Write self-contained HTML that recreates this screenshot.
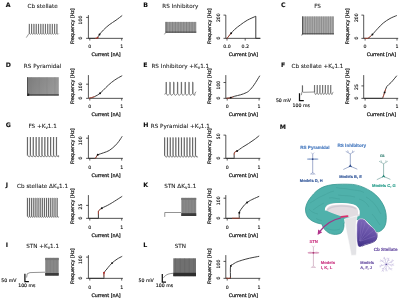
<!DOCTYPE html>
<html><head><meta charset="utf-8"><style>
html,body{margin:0;padding:0;background:#fff;}
svg{display:block;}
text{font-family:'DejaVu Sans', 'Liberation Sans', sans-serif;text-rendering:geometricPrecision;}
</style></head><body>
<svg width="400" height="299" viewBox="0 0 400 299">
<defs><filter id="soft" x="0" y="0" width="1" height="1"><feGaussianBlur stdDeviation="0.3"/></filter></defs>
<g filter="url(#soft)">
<rect width="400" height="299" fill="#fff"/>
<text x="5.80" y="7.20" font-size="6.2" text-anchor="start" font-weight="bold" fill="#111" stroke="#111" stroke-width="0.1">A</text>
<text x="42.60" y="7.75" font-size="5.65" text-anchor="middle" font-weight="normal" fill="#1a1a1a" stroke="#1a1a1a" stroke-width="0.08">Cb stellate</text>
<text x="143.20" y="7.20" font-size="6.2" text-anchor="start" font-weight="bold" fill="#111" stroke="#111" stroke-width="0.1">B</text>
<text x="180.30" y="7.75" font-size="5.65" text-anchor="middle" font-weight="normal" fill="#1a1a1a" stroke="#1a1a1a" stroke-width="0.08">RS Inhibitory</text>
<text x="281.10" y="7.20" font-size="6.2" text-anchor="start" font-weight="bold" fill="#111" stroke="#111" stroke-width="0.1">C</text>
<text x="317.50" y="7.75" font-size="5.65" text-anchor="middle" font-weight="normal" fill="#1a1a1a" stroke="#1a1a1a" stroke-width="0.08">FS</text>
<text x="5.80" y="67.20" font-size="6.2" text-anchor="start" font-weight="bold" fill="#111" stroke="#111" stroke-width="0.1">D</text>
<text x="42.60" y="67.75" font-size="5.65" text-anchor="middle" font-weight="normal" fill="#1a1a1a" stroke="#1a1a1a" stroke-width="0.08">RS Pyramidal</text>
<text x="143.20" y="67.20" font-size="6.2" text-anchor="start" font-weight="bold" fill="#111" stroke="#111" stroke-width="0.1">E</text>
<text x="180.30" y="67.75" font-size="5.65" text-anchor="middle" font-weight="normal" fill="#1a1a1a" stroke="#1a1a1a" stroke-width="0.08">RS Inhibitory +K<tspan font-size="0.62em" dy="1.0">V</tspan><tspan dy="-1.0">1.1</tspan></text>
<text x="281.10" y="67.20" font-size="6.2" text-anchor="start" font-weight="bold" fill="#111" stroke="#111" stroke-width="0.1">F</text>
<text x="317.50" y="67.75" font-size="5.65" text-anchor="middle" font-weight="normal" fill="#1a1a1a" stroke="#1a1a1a" stroke-width="0.08">Cb stellate +K<tspan font-size="0.62em" dy="1.0">V</tspan><tspan dy="-1.0">1.1</tspan></text>
<text x="5.80" y="127.20" font-size="6.2" text-anchor="start" font-weight="bold" fill="#111" stroke="#111" stroke-width="0.1">G</text>
<text x="42.60" y="127.75" font-size="5.65" text-anchor="middle" font-weight="normal" fill="#1a1a1a" stroke="#1a1a1a" stroke-width="0.08">FS +K<tspan font-size="0.62em" dy="1.0">V</tspan><tspan dy="-1.0">1.1</tspan></text>
<text x="143.20" y="127.20" font-size="6.2" text-anchor="start" font-weight="bold" fill="#111" stroke="#111" stroke-width="0.1">H</text>
<text x="180.30" y="127.75" font-size="5.65" text-anchor="middle" font-weight="normal" fill="#1a1a1a" stroke="#1a1a1a" stroke-width="0.08">RS Pyramidal +K<tspan font-size="0.62em" dy="1.0">V</tspan><tspan dy="-1.0">1.1</tspan></text>
<text x="5.80" y="187.20" font-size="6.2" text-anchor="start" font-weight="bold" fill="#111" stroke="#111" stroke-width="0.1">J</text>
<text x="42.60" y="187.75" font-size="5.65" text-anchor="middle" font-weight="normal" fill="#1a1a1a" stroke="#1a1a1a" stroke-width="0.08">Cb stellate ΔK<tspan font-size="0.62em" dy="1.0">V</tspan><tspan dy="-1.0">1.1</tspan></text>
<text x="143.20" y="187.20" font-size="6.2" text-anchor="start" font-weight="bold" fill="#111" stroke="#111" stroke-width="0.1">K</text>
<text x="180.30" y="187.75" font-size="5.65" text-anchor="middle" font-weight="normal" fill="#1a1a1a" stroke="#1a1a1a" stroke-width="0.08">STN ΔK<tspan font-size="0.62em" dy="1.0">V</tspan><tspan dy="-1.0">1.1</tspan></text>
<text x="5.80" y="247.20" font-size="6.2" text-anchor="start" font-weight="bold" fill="#111" stroke="#111" stroke-width="0.1">I</text>
<text x="42.60" y="247.75" font-size="5.65" text-anchor="middle" font-weight="normal" fill="#1a1a1a" stroke="#1a1a1a" stroke-width="0.08">STN +K<tspan font-size="0.62em" dy="1.0">V</tspan><tspan dy="-1.0">1.1</tspan></text>
<text x="143.20" y="247.20" font-size="6.2" text-anchor="start" font-weight="bold" fill="#111" stroke="#111" stroke-width="0.1">L</text>
<text x="180.30" y="247.75" font-size="5.65" text-anchor="middle" font-weight="normal" fill="#1a1a1a" stroke="#1a1a1a" stroke-width="0.08">STN</text>
<path d="M26.30 37.60L28.80 33.80L29.20 33.40L29.20 33.40L29.25 23.90L29.42 24.20L29.42 33.00Q29.52 34.30 30.46 34.30L31.50 33.40L31.55 23.90L31.72 24.20L31.72 33.00Q31.82 34.30 32.76 34.30L33.80 33.40L33.85 23.90L34.02 24.20L34.02 33.00Q34.12 34.30 35.06 34.30L36.10 33.40L36.15 23.90L36.32 24.20L36.32 33.00Q36.42 34.30 37.36 34.30L38.40 33.40L38.45 23.90L38.62 24.20L38.62 33.00Q38.72 34.30 39.66 34.30L40.70 33.40L40.75 23.90L40.92 24.20L40.92 33.00Q41.02 34.30 41.96 34.30L43.00 33.40L43.05 23.90L43.22 24.20L43.22 33.00Q43.32 34.30 44.26 34.30L45.30 33.40L45.35 23.90L45.52 24.20L45.52 33.00Q45.62 34.30 46.56 34.30L47.60 33.40L47.65 23.90L47.82 24.20L47.82 33.00Q47.92 34.30 48.86 34.30L49.90 33.40L49.95 23.90L50.12 24.20L50.12 33.00Q50.22 34.30 51.16 34.30L52.20 33.40L52.25 23.90L52.42 24.20L52.42 33.00Q52.52 34.30 53.46 34.30L54.50 33.40L54.55 23.90L54.72 24.20L54.72 33.00Q54.82 34.30 55.76 34.30L56.80 33.40L56.85 23.90L57.02 24.20L57.02 33.00Q57.12 34.30 58.06 34.30L58.70 33.60" stroke="#222" stroke-width="0.45" fill="none" stroke-linejoin="round"/>
<rect x="165.60" y="21.90" width="30.70" height="10.70" fill="#999"/>
<path d="M167.00 21.90V32.60M169.79 21.90V32.60M172.58 21.90V32.60M175.37 21.90V32.60M178.16 21.90V32.60M180.95 21.90V32.60M183.74 21.90V32.60M186.53 21.90V32.60M189.32 21.90V32.60M192.11 21.90V32.60M194.90 21.90V32.60" stroke="#666" stroke-width="0.45" fill="none"/>
<rect x="165.60" y="31.70" width="30.70" height="0.90" fill="#333"/>
<rect x="165.5" y="21.9" width="0.8" height="10.7" fill="#555"/>
<polyline points="164.40,34.40 165.60,32.60" fill="none" stroke="#3a3a3a" stroke-width="0.55"/>
<rect x="302.00" y="16.40" width="32.00" height="17.90" fill="#ababab"/>
<path d="M303.14 16.40V34.30M305.43 16.40V34.30M307.71 16.40V34.30M310.00 16.40V34.30M312.29 16.40V34.30M314.57 16.40V34.30M316.86 16.40V34.30M319.14 16.40V34.30M321.43 16.40V34.30M323.71 16.40V34.30M326.00 16.40V34.30M328.29 16.40V34.30M330.57 16.40V34.30M332.86 16.40V34.30" stroke="#686868" stroke-width="0.45" fill="none"/>
<rect x="302.00" y="33.40" width="32.00" height="0.90" fill="#3a3a3a"/>
<rect x="302.0" y="16.4" width="0.8" height="17.9" fill="#444"/>
<polyline points="301.70,35.60 302.30,33.80" fill="none" stroke="#3a3a3a" stroke-width="0.55"/>
<defs><linearGradient id="dg" x1="0" y1="0" x2="1" y2="0.3"><stop offset="0" stop-color="#7c7c7c"/><stop offset="1" stop-color="#989898"/></linearGradient></defs>
<rect x="27.30" y="77.20" width="31.50" height="18.40" fill="url(#dg)"/>
<path d="M31.24 77.20V95.60M39.11 77.20V95.60M46.99 77.20V95.60M54.86 77.20V95.60" stroke="#808080" stroke-width="0.35" fill="none"/>
<rect x="27.30" y="94.20" width="31.50" height="1.40" fill="#4a4a4a"/>
<rect x="27.0" y="93.6" width="2.2" height="2.2" fill="#222"/>
<rect x="27.1" y="77.2" width="0.8" height="18.4" fill="#3a3a3a"/>
<path d="M164.40 94.30L166.00 93.40L166.00 93.40L166.05 82.00L166.40 82.30L166.40 93.10Q166.50 95.30 168.16 95.30L169.80 93.40L169.85 82.00L170.20 82.30L170.20 93.10Q170.30 95.30 171.96 95.30L173.60 93.40L173.65 82.00L174.00 82.30L174.00 93.10Q174.10 95.30 175.76 95.30L177.40 93.40L177.45 82.00L177.80 82.30L177.80 93.10Q177.90 95.30 179.56 95.30L181.20 93.40L181.25 82.00L181.60 82.30L181.60 93.10Q181.70 95.30 183.36 95.30L185.00 93.40L185.05 82.00L185.40 82.30L185.40 93.10Q185.50 95.30 187.16 95.30L188.80 93.40L188.85 82.00L189.20 82.30L189.20 93.10Q189.30 95.30 190.96 95.30L192.60 93.40L192.65 82.00L193.00 82.30L193.00 93.10Q193.10 95.30 194.76 95.30L195.00 92.80L196.20 91.80" stroke="#222" stroke-width="0.5" fill="none" stroke-linejoin="round"/>
<path d="M301.30 95.20L301.90 92.20L302.30 92.00L302.30 92.00L302.35 85.40L302.58 85.70L302.58 91.30Q302.68 92.30 303.38 92.30L314.30 92.00" stroke="#222" stroke-width="0.5" fill="none" stroke-linejoin="round"/>
<path d="M314.40 92.20L314.40 92.20L314.45 85.00L314.65 85.30L314.65 92.90Q314.75 94.50 315.93 94.50L317.10 92.20L317.15 85.00L317.35 85.30L317.35 92.90Q317.45 94.50 318.63 94.50L319.80 92.20L319.85 85.00L320.05 85.30L320.05 92.90Q320.15 94.50 321.33 94.50L322.50 92.20L322.55 85.00L322.75 85.30L322.75 92.90Q322.85 94.50 324.03 94.50L325.20 92.20L325.25 85.00L325.45 85.30L325.45 92.90Q325.55 94.50 326.73 94.50L327.90 92.20L327.95 85.00L328.15 85.30L328.15 92.90Q328.25 94.50 329.43 94.50L330.60 92.20L330.65 85.00L330.85 85.30L330.85 92.90Q330.95 94.50 332.13 94.50L332.60 92.60L333.40 92.30" stroke="#222" stroke-width="0.45" fill="none" stroke-linejoin="round"/>
<path d="M299.50 93.20V100.70H303.80" fill="none" stroke="#111" stroke-width="1.25"/>
<text x="275.90" y="101.90" font-size="4.65" text-anchor="start" font-weight="normal" fill="#1a1a1a" stroke="#1a1a1a" stroke-width="0.15">50 mV</text>
<text x="292.60" y="106.90" font-size="4.65" text-anchor="start" font-weight="normal" fill="#1a1a1a" stroke="#1a1a1a" stroke-width="0.15">100 ms</text>
<path d="M27.30 155.60L27.30 155.60L27.35 137.00L27.58 137.30L27.58 154.30Q27.68 156.90 29.66 156.90L30.20 155.60L30.25 137.00L30.48 137.30L30.48 154.30Q30.58 156.90 32.56 156.90L33.10 155.60L33.15 137.00L33.38 137.30L33.38 154.30Q33.48 156.90 35.46 156.90L36.00 155.60L36.05 137.00L36.28 137.30L36.28 154.30Q36.38 156.90 38.36 156.90L38.90 155.60L38.95 137.00L39.18 137.30L39.18 154.30Q39.28 156.90 41.26 156.90L41.80 155.60L41.85 137.00L42.08 137.30L42.08 154.30Q42.18 156.90 44.16 156.90L44.70 155.60L44.75 137.00L44.98 137.30L44.98 154.30Q45.08 156.90 47.06 156.90L47.60 155.60L47.65 137.00L47.88 137.30L47.88 154.30Q47.98 156.90 49.96 156.90L50.50 155.60L50.55 137.00L50.78 137.30L50.78 154.30Q50.88 156.90 52.86 156.90L53.40 155.60L53.45 137.00L53.68 137.30L53.68 154.30Q53.78 156.90 55.76 156.90L56.30 155.60L56.35 137.00L56.58 137.30L56.58 154.30Q56.68 156.90 58.66 156.90L58.60 155.20" stroke="#222" stroke-width="0.5" fill="none" stroke-linejoin="round"/>
<path d="M164.50 155.80L164.50 155.80L164.55 137.40L164.78 137.70L164.78 154.80Q164.88 157.20 166.70 157.20L167.30 155.80L167.35 137.40L167.58 137.70L167.58 154.80Q167.68 157.20 169.50 157.20L170.10 155.80L170.15 137.40L170.38 137.70L170.38 154.80Q170.48 157.20 172.30 157.20L172.90 155.80L172.95 137.40L173.18 137.70L173.18 154.80Q173.28 157.20 175.10 157.20L175.70 155.80L175.75 137.40L175.98 137.70L175.98 154.80Q176.08 157.20 177.90 157.20L178.50 155.80L178.55 137.40L178.78 137.70L178.78 154.80Q178.88 157.20 180.70 157.20L181.30 155.80L181.35 137.40L181.58 137.70L181.58 154.80Q181.68 157.20 183.50 157.20L184.10 155.80L184.15 137.40L184.38 137.70L184.38 154.80Q184.48 157.20 186.30 157.20L186.90 155.80L186.95 137.40L187.18 137.70L187.18 154.80Q187.28 157.20 189.10 157.20L189.70 155.80L189.75 137.40L189.98 137.70L189.98 154.80Q190.08 157.20 191.90 157.20L192.50 155.80L192.55 137.40L192.78 137.70L192.78 154.80Q192.88 157.20 194.70 157.20L195.30 155.80L195.35 137.40L195.58 137.70L195.58 154.80Q195.68 157.20 197.50 157.20L196.60 156.00" stroke="#222" stroke-width="0.5" fill="none" stroke-linejoin="round"/>
<path d="M27.30 216.40L27.30 216.40L27.35 197.90L27.58 198.20L27.58 216.00Q27.68 217.40 28.70 217.40L29.42 216.40L29.47 197.90L29.70 198.20L29.70 216.00Q29.80 217.40 30.82 217.40L31.54 216.40L31.59 197.90L31.82 198.20L31.82 216.00Q31.92 217.40 32.94 217.40L33.66 216.40L33.71 197.90L33.94 198.20L33.94 216.00Q34.04 217.40 35.06 217.40L35.78 216.40L35.83 197.90L36.06 198.20L36.06 216.00Q36.16 217.40 37.18 217.40L37.90 216.40L37.95 197.90L38.18 198.20L38.18 216.00Q38.28 217.40 39.30 217.40L40.02 216.40L40.07 197.90L40.30 198.20L40.30 216.00Q40.40 217.40 41.42 217.40L42.14 216.40L42.19 197.90L42.42 198.20L42.42 216.00Q42.52 217.40 43.54 217.40L44.26 216.40L44.31 197.90L44.54 198.20L44.54 216.00Q44.64 217.40 45.66 217.40L46.38 216.40L46.43 197.90L46.66 198.20L46.66 216.00Q46.76 217.40 47.78 217.40L48.50 216.40L48.55 197.90L48.78 198.20L48.78 216.00Q48.88 217.40 49.90 217.40L50.62 216.40L50.67 197.90L50.90 198.20L50.90 216.00Q51.00 217.40 52.02 217.40L52.74 216.40L52.79 197.90L53.02 198.20L53.02 216.00Q53.12 217.40 54.14 217.40L54.86 216.40L54.91 197.90L55.14 198.20L55.14 216.00Q55.24 217.40 56.26 217.40L56.98 216.40L57.03 197.90L57.26 198.20L57.26 216.00Q57.36 217.40 58.38 217.40L58.60 216.60" stroke="#222" stroke-width="0.5" fill="none" stroke-linejoin="round"/>
<polyline points="164.75,216.90 164.75,212.50 181.20,212.50" fill="none" stroke="#3a3a3a" stroke-width="0.55"/>
<rect x="181.30" y="197.90" width="14.90" height="18.10" fill="#888"/>
<path d="M182.79 197.90V216.00M185.77 197.90V216.00M188.75 197.90V216.00M191.73 197.90V216.00M194.71 197.90V216.00" stroke="#747474" stroke-width="0.35" fill="none"/>
<rect x="181.30" y="213.20" width="14.90" height="2.80" fill="#3a3a3a"/>
<rect x="181.3" y="197.9" width="14.9" height="2.0" fill="#777"/>
<polyline points="26.60,277.50 27.20,273.80 30.00,272.60 45.00,272.20" fill="none" stroke="#3a3a3a" stroke-width="0.55"/>
<rect x="45.20" y="257.90" width="13.50" height="17.70" fill="#888"/>
<path d="M46.89 257.90V275.60M50.26 257.90V275.60M53.64 257.90V275.60M57.01 257.90V275.60" stroke="#747474" stroke-width="0.35" fill="none"/>
<rect x="45.20" y="273.00" width="13.50" height="2.60" fill="#3a3a3a"/>
<rect x="45.2" y="257.9" width="13.5" height="2.2" fill="#777"/>
<path d="M24.90 273.80V281.70H28.90" fill="none" stroke="#111" stroke-width="1.25"/>
<text x="1.30" y="282.20" font-size="4.65" text-anchor="start" font-weight="normal" fill="#1a1a1a" stroke="#1a1a1a" stroke-width="0.15">50 mV</text>
<text x="18.20" y="287.30" font-size="4.65" text-anchor="start" font-weight="normal" fill="#1a1a1a" stroke="#1a1a1a" stroke-width="0.15">100 ms</text>
<path d="M163.5 277.8 C 166 274, 170 273.5, 173.3 273.3" stroke="#3a3a3a" stroke-width="0.55" fill="none"/>
<rect x="173.30" y="258.30" width="22.70" height="17.90" fill="#707070"/>
<path d="M175.57 258.30V276.20M180.11 258.30V276.20M184.65 258.30V276.20M189.19 258.30V276.20M193.73 258.30V276.20" stroke="#5a5a5a" stroke-width="0.35" fill="none"/>
<rect x="173.30" y="272.80" width="22.70" height="3.40" fill="#2e2e2e"/>
<path d="M162.30 274.00V282.00H166.00" fill="none" stroke="#111" stroke-width="1.25"/>
<text x="138.50" y="282.30" font-size="4.65" text-anchor="start" font-weight="normal" fill="#1a1a1a" stroke="#1a1a1a" stroke-width="0.15">50 mV</text>
<text x="155.80" y="286.90" font-size="4.65" text-anchor="start" font-weight="normal" fill="#1a1a1a" stroke="#1a1a1a" stroke-width="0.15">100 ms</text>
<path d="M88.40 15.10 V38.35 H122.90" fill="none" stroke="#2a2a2a" stroke-width="0.8"/>
<line x1="86.10" y1="38.35" x2="88.40" y2="38.35" stroke="#2a2a2a" stroke-width="0.8"/>
<line x1="86.10" y1="17.40" x2="88.40" y2="17.40" stroke="#2a2a2a" stroke-width="0.8"/>
<line x1="89.80" y1="38.35" x2="89.80" y2="40.55" stroke="#2a2a2a" stroke-width="0.75"/>
<line x1="121.70" y1="38.35" x2="121.70" y2="40.55" stroke="#2a2a2a" stroke-width="0.75"/>
<text x="82.30" y="36.55" font-size="4.6" text-anchor="end" font-weight="normal" fill="#1a1a1a" stroke="#1a1a1a" stroke-width="0.15" transform="rotate(-90 82.30 36.55)">0</text>
<text x="82.30" y="15.60" font-size="4.6" text-anchor="end" font-weight="normal" fill="#1a1a1a" stroke="#1a1a1a" stroke-width="0.15" transform="rotate(-90 82.30 15.60)">100</text>
<text x="89.80" y="48.25" font-size="4.7" text-anchor="middle" font-weight="normal" fill="#1a1a1a" stroke="#1a1a1a" stroke-width="0.12">0</text>
<text x="121.70" y="48.25" font-size="4.7" text-anchor="middle" font-weight="normal" fill="#1a1a1a" stroke="#1a1a1a" stroke-width="0.12">1</text>
<text x="106.05" y="56.10" font-size="4.75" text-anchor="middle" font-weight="normal" fill="#1a1a1a" stroke="#1a1a1a" stroke-width="0.26">Current [nA]</text>
<text x="74.00" y="26.20" font-size="4.75" text-anchor="middle" font-weight="normal" fill="#1a1a1a" stroke="#1a1a1a" stroke-width="0.26" transform="rotate(-90 74.00 26.20)">Frequency [Hz]</text>
<path d="M88.40 38.35L97.20 38.35C97.40 37.99 98.02 36.84 98.40 36.20C98.78 35.56 98.65 35.55 99.50 34.50C100.35 33.45 101.88 31.52 103.50 29.90C105.12 28.28 107.12 26.42 109.20 24.80C111.28 23.18 113.83 21.75 116.00 20.20C118.17 18.65 121.17 16.28 122.20 15.50" fill="none" stroke="#333" stroke-width="0.95" stroke-linejoin="round"/>
<polyline points="95.50,38.30 97.40,38.00" fill="none" stroke="#d8442c" stroke-width="1.0" stroke-opacity="0.6" stroke-linecap="round"/>
<circle cx="97.60" cy="37.60" r="0.95" fill="#a0302a"/>
<circle cx="99.50" cy="34.50" r="0.95" fill="#111"/>
<path d="M225.80 15.10 V38.35 H260.30" fill="none" stroke="#2a2a2a" stroke-width="0.8"/>
<line x1="223.50" y1="38.35" x2="225.80" y2="38.35" stroke="#2a2a2a" stroke-width="0.8"/>
<line x1="223.50" y1="15.10" x2="225.80" y2="15.10" stroke="#2a2a2a" stroke-width="0.8"/>
<line x1="227.00" y1="38.35" x2="227.00" y2="40.55" stroke="#2a2a2a" stroke-width="0.75"/>
<line x1="245.20" y1="38.35" x2="245.20" y2="40.55" stroke="#2a2a2a" stroke-width="0.75"/>
<text x="219.70" y="36.55" font-size="4.6" text-anchor="end" font-weight="normal" fill="#1a1a1a" stroke="#1a1a1a" stroke-width="0.15" transform="rotate(-90 219.70 36.55)">0</text>
<text x="219.70" y="13.30" font-size="4.6" text-anchor="end" font-weight="normal" fill="#1a1a1a" stroke="#1a1a1a" stroke-width="0.15" transform="rotate(-90 219.70 13.30)">200</text>
<text x="227.00" y="48.25" font-size="4.7" text-anchor="middle" font-weight="normal" fill="#1a1a1a" stroke="#1a1a1a" stroke-width="0.12">0.0</text>
<text x="245.20" y="48.25" font-size="4.7" text-anchor="middle" font-weight="normal" fill="#1a1a1a" stroke="#1a1a1a" stroke-width="0.12">0.2</text>
<text x="243.45" y="56.10" font-size="4.75" text-anchor="middle" font-weight="normal" fill="#1a1a1a" stroke="#1a1a1a" stroke-width="0.26">Current [nA]</text>
<text x="211.40" y="26.20" font-size="4.75" text-anchor="middle" font-weight="normal" fill="#1a1a1a" stroke="#1a1a1a" stroke-width="0.26" transform="rotate(-90 211.40 26.20)">Frequency [Hz]</text>
<path d="M225.80 38.35L227.00 38.35C227.32 37.96 228.22 36.84 228.90 36.00C229.58 35.16 230.12 34.42 231.10 33.30C232.08 32.18 233.23 30.72 234.80 29.30C236.37 27.88 238.42 26.32 240.50 24.80C242.58 23.28 244.75 21.62 247.30 20.20C249.85 18.77 254.38 16.91 255.80 16.25L255.80 38.35L260.30 38.35" fill="none" stroke="#333" stroke-width="0.95" stroke-linejoin="round"/>
<polyline points="227.00,38.30 228.90,36.00 231.10,33.30" fill="none" stroke="#d8442c" stroke-width="1.0" stroke-opacity="0.6" stroke-linecap="round"/>
<circle cx="231.10" cy="33.30" r="0.95" fill="#111"/>
<path d="M363.70 15.10 V38.35 H398.20" fill="none" stroke="#2a2a2a" stroke-width="0.8"/>
<line x1="361.40" y1="38.35" x2="363.70" y2="38.35" stroke="#2a2a2a" stroke-width="0.8"/>
<line x1="361.40" y1="15.10" x2="363.70" y2="15.10" stroke="#2a2a2a" stroke-width="0.8"/>
<line x1="365.10" y1="38.35" x2="365.10" y2="40.55" stroke="#2a2a2a" stroke-width="0.75"/>
<line x1="397.00" y1="38.35" x2="397.00" y2="40.55" stroke="#2a2a2a" stroke-width="0.75"/>
<text x="357.60" y="36.55" font-size="4.6" text-anchor="end" font-weight="normal" fill="#1a1a1a" stroke="#1a1a1a" stroke-width="0.15" transform="rotate(-90 357.60 36.55)">0</text>
<text x="357.60" y="13.30" font-size="4.6" text-anchor="end" font-weight="normal" fill="#1a1a1a" stroke="#1a1a1a" stroke-width="0.15" transform="rotate(-90 357.60 13.30)">200</text>
<text x="365.10" y="48.25" font-size="4.7" text-anchor="middle" font-weight="normal" fill="#1a1a1a" stroke="#1a1a1a" stroke-width="0.12">0</text>
<text x="397.00" y="48.25" font-size="4.7" text-anchor="middle" font-weight="normal" fill="#1a1a1a" stroke="#1a1a1a" stroke-width="0.12">1</text>
<text x="381.35" y="56.10" font-size="4.75" text-anchor="middle" font-weight="normal" fill="#1a1a1a" stroke="#1a1a1a" stroke-width="0.26">Current [nA]</text>
<text x="349.30" y="26.20" font-size="4.75" text-anchor="middle" font-weight="normal" fill="#1a1a1a" stroke="#1a1a1a" stroke-width="0.26" transform="rotate(-90 349.30 26.20)">Frequency [Hz]</text>
<path d="M363.70 38.35C364.38 38.35 366.78 38.58 367.80 38.35C368.82 38.12 369.03 37.64 369.80 37.00C370.57 36.36 371.12 35.87 372.40 34.50C373.68 33.13 375.70 30.70 377.50 28.80C379.30 26.90 381.12 24.82 383.20 23.10C385.28 21.38 387.73 19.77 390.00 18.50C392.27 17.23 395.67 16.00 396.80 15.50" fill="none" stroke="#333" stroke-width="0.95" stroke-linejoin="round"/>
<polyline points="364.80,38.30 367.80,38.30 370.80,36.00" fill="none" stroke="#d8442c" stroke-width="1.0" stroke-opacity="0.6" stroke-linecap="round"/>
<circle cx="372.40" cy="34.50" r="0.95" fill="#111"/>
<path d="M88.40 75.10 V98.35 H122.90" fill="none" stroke="#2a2a2a" stroke-width="0.8"/>
<line x1="86.10" y1="98.35" x2="88.40" y2="98.35" stroke="#2a2a2a" stroke-width="0.8"/>
<line x1="86.10" y1="84.20" x2="88.40" y2="84.20" stroke="#2a2a2a" stroke-width="0.8"/>
<line x1="89.80" y1="98.35" x2="89.80" y2="100.55" stroke="#2a2a2a" stroke-width="0.75"/>
<line x1="121.70" y1="98.35" x2="121.70" y2="100.55" stroke="#2a2a2a" stroke-width="0.75"/>
<text x="82.30" y="96.55" font-size="4.6" text-anchor="end" font-weight="normal" fill="#1a1a1a" stroke="#1a1a1a" stroke-width="0.15" transform="rotate(-90 82.30 96.55)">0</text>
<text x="82.30" y="82.40" font-size="4.6" text-anchor="end" font-weight="normal" fill="#1a1a1a" stroke="#1a1a1a" stroke-width="0.15" transform="rotate(-90 82.30 82.40)">100</text>
<text x="89.80" y="108.40" font-size="4.7" text-anchor="middle" font-weight="normal" fill="#1a1a1a" stroke="#1a1a1a" stroke-width="0.12">0</text>
<text x="121.70" y="108.40" font-size="4.7" text-anchor="middle" font-weight="normal" fill="#1a1a1a" stroke="#1a1a1a" stroke-width="0.12">1</text>
<text x="106.05" y="116.32" font-size="4.75" text-anchor="middle" font-weight="normal" fill="#1a1a1a" stroke="#1a1a1a" stroke-width="0.26">Current [nA]</text>
<text x="74.00" y="86.20" font-size="4.75" text-anchor="middle" font-weight="normal" fill="#1a1a1a" stroke="#1a1a1a" stroke-width="0.26" transform="rotate(-90 74.00 86.20)">Frequency [Hz]</text>
<path d="M89.00 98.35C89.90 98.07 92.55 97.54 94.40 96.70C96.25 95.86 98.20 94.82 100.10 93.30C102.00 91.78 103.92 89.40 105.80 87.60C107.68 85.80 109.52 84.02 111.40 82.50C113.28 80.98 115.30 79.63 117.10 78.50C118.90 77.37 121.35 76.17 122.20 75.70" fill="none" stroke="#333" stroke-width="0.95" stroke-linejoin="round"/>
<polyline points="89.20,98.20 92.00,97.40 94.40,96.70" fill="none" stroke="#d8442c" stroke-width="1.0" stroke-opacity="0.6" stroke-linecap="round"/>
<circle cx="100.10" cy="93.30" r="0.95" fill="#111"/>
<path d="M225.80 75.10 V98.35 H260.30" fill="none" stroke="#2a2a2a" stroke-width="0.8"/>
<line x1="223.50" y1="98.35" x2="225.80" y2="98.35" stroke="#2a2a2a" stroke-width="0.8"/>
<line x1="223.50" y1="82.50" x2="225.80" y2="82.50" stroke="#2a2a2a" stroke-width="0.8"/>
<line x1="227.20" y1="98.35" x2="227.20" y2="100.55" stroke="#2a2a2a" stroke-width="0.75"/>
<line x1="259.10" y1="98.35" x2="259.10" y2="100.55" stroke="#2a2a2a" stroke-width="0.75"/>
<text x="219.70" y="96.55" font-size="4.6" text-anchor="end" font-weight="normal" fill="#1a1a1a" stroke="#1a1a1a" stroke-width="0.15" transform="rotate(-90 219.70 96.55)">0</text>
<text x="219.70" y="80.70" font-size="4.6" text-anchor="end" font-weight="normal" fill="#1a1a1a" stroke="#1a1a1a" stroke-width="0.15" transform="rotate(-90 219.70 80.70)">100</text>
<text x="227.20" y="108.40" font-size="4.7" text-anchor="middle" font-weight="normal" fill="#1a1a1a" stroke="#1a1a1a" stroke-width="0.12">0</text>
<text x="259.10" y="108.40" font-size="4.7" text-anchor="middle" font-weight="normal" fill="#1a1a1a" stroke="#1a1a1a" stroke-width="0.12">1</text>
<text x="243.45" y="116.32" font-size="4.75" text-anchor="middle" font-weight="normal" fill="#1a1a1a" stroke="#1a1a1a" stroke-width="0.26">Current [nA]</text>
<text x="211.40" y="86.20" font-size="4.75" text-anchor="middle" font-weight="normal" fill="#1a1a1a" stroke="#1a1a1a" stroke-width="0.26" transform="rotate(-90 211.40 86.20)">Frequency [Hz]</text>
<path d="M225.80 98.35C226.23 98.31 227.57 98.22 228.40 98.10C229.23 97.97 229.73 97.92 230.80 97.60C231.87 97.28 233.18 96.67 234.80 96.20C236.42 95.73 238.60 95.38 240.50 94.80C242.40 94.22 244.68 93.45 246.20 92.70C247.72 91.95 248.28 91.62 249.60 90.30C250.92 88.98 252.40 87.23 254.10 84.80C255.80 82.37 258.85 77.22 259.80 75.70" fill="none" stroke="#333" stroke-width="0.95" stroke-linejoin="round"/>
<polyline points="226.90,98.30 229.40,98.00 232.90,97.00" fill="none" stroke="#d8442c" stroke-width="1.0" stroke-opacity="0.6" stroke-linecap="round"/>
<circle cx="230.80" cy="97.60" r="0.95" fill="#111"/>
<path d="M363.70 75.10 V98.35 H398.20" fill="none" stroke="#2a2a2a" stroke-width="0.8"/>
<line x1="361.40" y1="98.35" x2="363.70" y2="98.35" stroke="#2a2a2a" stroke-width="0.8"/>
<line x1="361.40" y1="85.90" x2="363.70" y2="85.90" stroke="#2a2a2a" stroke-width="0.8"/>
<line x1="365.10" y1="98.35" x2="365.10" y2="100.55" stroke="#2a2a2a" stroke-width="0.75"/>
<line x1="397.00" y1="98.35" x2="397.00" y2="100.55" stroke="#2a2a2a" stroke-width="0.75"/>
<text x="357.60" y="96.55" font-size="4.6" text-anchor="end" font-weight="normal" fill="#1a1a1a" stroke="#1a1a1a" stroke-width="0.15" transform="rotate(-90 357.60 96.55)">0</text>
<text x="357.60" y="84.10" font-size="4.6" text-anchor="end" font-weight="normal" fill="#1a1a1a" stroke="#1a1a1a" stroke-width="0.15" transform="rotate(-90 357.60 84.10)">25</text>
<text x="365.10" y="108.40" font-size="4.7" text-anchor="middle" font-weight="normal" fill="#1a1a1a" stroke="#1a1a1a" stroke-width="0.12">0</text>
<text x="397.00" y="108.40" font-size="4.7" text-anchor="middle" font-weight="normal" fill="#1a1a1a" stroke="#1a1a1a" stroke-width="0.12">1</text>
<text x="381.35" y="116.32" font-size="4.75" text-anchor="middle" font-weight="normal" fill="#1a1a1a" stroke="#1a1a1a" stroke-width="0.26">Current [nA]</text>
<text x="349.30" y="86.20" font-size="4.75" text-anchor="middle" font-weight="normal" fill="#1a1a1a" stroke="#1a1a1a" stroke-width="0.26" transform="rotate(-90 349.30 86.20)">Frequency [Hz]</text>
<path d="M363.70 98.35L382.60 98.35C382.82 97.71 383.52 95.62 383.90 94.50C384.28 93.38 384.42 92.93 384.90 91.60C385.38 90.27 385.77 88.02 386.80 86.50C387.83 84.98 389.43 84.30 391.10 82.50C392.77 80.70 395.85 76.83 396.80 75.70" fill="none" stroke="#333" stroke-width="0.95" stroke-linejoin="round"/>
<polyline points="383.10,97.20 384.30,93.30 385.60,89.50" fill="none" stroke="#d8442c" stroke-width="1.0" stroke-opacity="0.6" stroke-linecap="round"/>
<circle cx="384.60" cy="92.40" r="0.95" fill="#111"/>
<path d="M88.40 135.10 V158.35 H122.90" fill="none" stroke="#2a2a2a" stroke-width="0.8"/>
<line x1="86.10" y1="158.35" x2="88.40" y2="158.35" stroke="#2a2a2a" stroke-width="0.8"/>
<line x1="86.10" y1="138.20" x2="88.40" y2="138.20" stroke="#2a2a2a" stroke-width="0.8"/>
<line x1="89.80" y1="158.35" x2="89.80" y2="160.55" stroke="#2a2a2a" stroke-width="0.75"/>
<line x1="121.70" y1="158.35" x2="121.70" y2="160.55" stroke="#2a2a2a" stroke-width="0.75"/>
<text x="82.30" y="156.55" font-size="4.6" text-anchor="end" font-weight="normal" fill="#1a1a1a" stroke="#1a1a1a" stroke-width="0.15" transform="rotate(-90 82.30 156.55)">0</text>
<text x="82.30" y="136.40" font-size="4.6" text-anchor="end" font-weight="normal" fill="#1a1a1a" stroke="#1a1a1a" stroke-width="0.15" transform="rotate(-90 82.30 136.40)">100</text>
<text x="89.80" y="168.55" font-size="4.7" text-anchor="middle" font-weight="normal" fill="#1a1a1a" stroke="#1a1a1a" stroke-width="0.12">0</text>
<text x="121.70" y="168.55" font-size="4.7" text-anchor="middle" font-weight="normal" fill="#1a1a1a" stroke="#1a1a1a" stroke-width="0.12">1</text>
<text x="106.05" y="176.54" font-size="4.75" text-anchor="middle" font-weight="normal" fill="#1a1a1a" stroke="#1a1a1a" stroke-width="0.26">Current [nA]</text>
<text x="74.00" y="146.20" font-size="4.75" text-anchor="middle" font-weight="normal" fill="#1a1a1a" stroke="#1a1a1a" stroke-width="0.26" transform="rotate(-90 74.00 146.20)">Frequency [Hz]</text>
<path d="M88.40 158.35L95.50 158.35C95.70 157.99 96.32 156.79 96.70 156.20C97.08 155.61 96.67 155.37 97.80 154.80C98.93 154.23 101.60 153.52 103.50 152.80C105.40 152.08 107.30 151.65 109.20 150.50C111.10 149.35 113.30 147.42 114.90 145.90C116.50 144.38 117.58 143.00 118.80 141.40C120.02 139.80 121.63 137.15 122.20 136.30" fill="none" stroke="#333" stroke-width="0.95" stroke-linejoin="round"/>
<polyline points="95.30,158.20 96.50,156.40 97.50,155.20" fill="none" stroke="#d8442c" stroke-width="1.0" stroke-opacity="0.6" stroke-linecap="round"/>
<circle cx="97.80" cy="154.80" r="0.95" fill="#111"/>
<path d="M225.80 135.10 V158.35 H260.30" fill="none" stroke="#2a2a2a" stroke-width="0.8"/>
<line x1="223.50" y1="158.35" x2="225.80" y2="158.35" stroke="#2a2a2a" stroke-width="0.8"/>
<line x1="223.50" y1="135.10" x2="225.80" y2="135.10" stroke="#2a2a2a" stroke-width="0.8"/>
<line x1="227.20" y1="158.35" x2="227.20" y2="160.55" stroke="#2a2a2a" stroke-width="0.75"/>
<line x1="259.10" y1="158.35" x2="259.10" y2="160.55" stroke="#2a2a2a" stroke-width="0.75"/>
<text x="219.70" y="156.55" font-size="4.6" text-anchor="end" font-weight="normal" fill="#1a1a1a" stroke="#1a1a1a" stroke-width="0.15" transform="rotate(-90 219.70 156.55)">0</text>
<text x="219.70" y="133.30" font-size="4.6" text-anchor="end" font-weight="normal" fill="#1a1a1a" stroke="#1a1a1a" stroke-width="0.15" transform="rotate(-90 219.70 133.30)">50</text>
<text x="227.20" y="168.55" font-size="4.7" text-anchor="middle" font-weight="normal" fill="#1a1a1a" stroke="#1a1a1a" stroke-width="0.12">0</text>
<text x="259.10" y="168.55" font-size="4.7" text-anchor="middle" font-weight="normal" fill="#1a1a1a" stroke="#1a1a1a" stroke-width="0.12">1</text>
<text x="243.45" y="176.54" font-size="4.75" text-anchor="middle" font-weight="normal" fill="#1a1a1a" stroke="#1a1a1a" stroke-width="0.26">Current [nA]</text>
<text x="211.40" y="146.20" font-size="4.75" text-anchor="middle" font-weight="normal" fill="#1a1a1a" stroke="#1a1a1a" stroke-width="0.26" transform="rotate(-90 211.40 146.20)">Frequency [Hz]</text>
<path d="M225.80 158.35L234.20 158.35C234.20 157.51 234.03 154.39 234.20 153.30C234.37 152.21 234.72 152.18 235.20 151.80C235.68 151.42 235.85 151.78 237.10 151.00C238.35 150.22 240.82 148.33 242.70 147.10C244.58 145.87 246.50 144.83 248.40 143.60C250.30 142.37 252.30 141.02 254.10 139.70C255.90 138.38 258.35 136.37 259.20 135.70" fill="none" stroke="#333" stroke-width="0.95" stroke-linejoin="round"/>
<polyline points="234.20,154.50 234.70,152.30 236.40,151.20" fill="none" stroke="#d8442c" stroke-width="1.0" stroke-opacity="0.6" stroke-linecap="round"/>
<circle cx="237.10" cy="151.00" r="0.95" fill="#111"/>
<path d="M88.40 195.10 V218.35 H122.90" fill="none" stroke="#2a2a2a" stroke-width="0.8"/>
<line x1="86.10" y1="218.35" x2="88.40" y2="218.35" stroke="#2a2a2a" stroke-width="0.8"/>
<line x1="86.10" y1="205.40" x2="88.40" y2="205.40" stroke="#2a2a2a" stroke-width="0.8"/>
<line x1="89.80" y1="218.35" x2="89.80" y2="220.55" stroke="#2a2a2a" stroke-width="0.75"/>
<line x1="121.70" y1="218.35" x2="121.70" y2="220.55" stroke="#2a2a2a" stroke-width="0.75"/>
<text x="82.30" y="216.55" font-size="4.6" text-anchor="end" font-weight="normal" fill="#1a1a1a" stroke="#1a1a1a" stroke-width="0.15" transform="rotate(-90 82.30 216.55)">0</text>
<text x="82.30" y="203.60" font-size="4.6" text-anchor="end" font-weight="normal" fill="#1a1a1a" stroke="#1a1a1a" stroke-width="0.15" transform="rotate(-90 82.30 203.60)">25</text>
<text x="89.80" y="228.70" font-size="4.7" text-anchor="middle" font-weight="normal" fill="#1a1a1a" stroke="#1a1a1a" stroke-width="0.12">0</text>
<text x="121.70" y="228.70" font-size="4.7" text-anchor="middle" font-weight="normal" fill="#1a1a1a" stroke="#1a1a1a" stroke-width="0.12">1</text>
<text x="106.05" y="236.76" font-size="4.75" text-anchor="middle" font-weight="normal" fill="#1a1a1a" stroke="#1a1a1a" stroke-width="0.26">Current [nA]</text>
<text x="74.00" y="206.20" font-size="4.75" text-anchor="middle" font-weight="normal" fill="#1a1a1a" stroke="#1a1a1a" stroke-width="0.26" transform="rotate(-90 74.00 206.20)">Frequency [Hz]</text>
<path d="M88.40 218.35L98.40 218.35L98.40 211.00C98.97 210.53 99.92 209.33 101.80 208.20C103.68 207.07 106.30 206.18 109.70 204.20C113.10 202.22 120.12 197.62 122.20 196.30" fill="none" stroke="#333" stroke-width="0.95" stroke-linejoin="round"/>
<polyline points="98.40,214.00 98.40,211.00 100.20,209.50" fill="none" stroke="#d8442c" stroke-width="1.0" stroke-opacity="0.6" stroke-linecap="round"/>
<circle cx="101.80" cy="208.20" r="0.95" fill="#111"/>
<path d="M225.80 195.10 V218.35 H260.30" fill="none" stroke="#2a2a2a" stroke-width="0.8"/>
<line x1="223.50" y1="218.35" x2="225.80" y2="218.35" stroke="#2a2a2a" stroke-width="0.8"/>
<line x1="223.50" y1="198.20" x2="225.80" y2="198.20" stroke="#2a2a2a" stroke-width="0.8"/>
<line x1="227.20" y1="218.35" x2="227.20" y2="220.55" stroke="#2a2a2a" stroke-width="0.75"/>
<line x1="259.10" y1="218.35" x2="259.10" y2="220.55" stroke="#2a2a2a" stroke-width="0.75"/>
<text x="219.70" y="216.55" font-size="4.6" text-anchor="end" font-weight="normal" fill="#1a1a1a" stroke="#1a1a1a" stroke-width="0.15" transform="rotate(-90 219.70 216.55)">0</text>
<text x="219.70" y="196.40" font-size="4.6" text-anchor="end" font-weight="normal" fill="#1a1a1a" stroke="#1a1a1a" stroke-width="0.15" transform="rotate(-90 219.70 196.40)">100</text>
<text x="227.20" y="228.70" font-size="4.7" text-anchor="middle" font-weight="normal" fill="#1a1a1a" stroke="#1a1a1a" stroke-width="0.12">0</text>
<text x="259.10" y="228.70" font-size="4.7" text-anchor="middle" font-weight="normal" fill="#1a1a1a" stroke="#1a1a1a" stroke-width="0.12">1</text>
<text x="243.45" y="236.76" font-size="4.75" text-anchor="middle" font-weight="normal" fill="#1a1a1a" stroke="#1a1a1a" stroke-width="0.26">Current [nA]</text>
<text x="211.40" y="206.20" font-size="4.75" text-anchor="middle" font-weight="normal" fill="#1a1a1a" stroke="#1a1a1a" stroke-width="0.26" transform="rotate(-90 211.40 206.20)">Frequency [Hz]</text>
<path d="M225.80 218.35L239.30 218.35C239.30 217.41 239.07 214.12 239.30 212.70C239.53 211.27 240.13 210.73 240.70 209.80C241.27 208.87 242.02 207.98 242.70 207.10C243.38 206.22 244.07 205.27 244.80 204.50C245.53 203.73 246.25 203.13 247.10 202.50C247.95 201.87 248.92 201.27 249.90 200.70C250.88 200.13 251.45 199.83 253.00 199.10C254.55 198.37 258.17 196.77 259.20 196.30" fill="none" stroke="#333" stroke-width="0.95" stroke-linejoin="round"/>
<polyline points="232.40,218.20 239.30,218.20" fill="none" stroke="#d8442c" stroke-width="1.0" stroke-opacity="0.6" stroke-linecap="round"/>
<circle cx="239.30" cy="212.70" r="0.95" fill="#111"/>
<circle cx="247.10" cy="202.50" r="0.95" fill="#111"/>
<path d="M88.40 255.10 V278.35 H122.90" fill="none" stroke="#2a2a2a" stroke-width="0.8"/>
<line x1="86.10" y1="278.35" x2="88.40" y2="278.35" stroke="#2a2a2a" stroke-width="0.8"/>
<line x1="86.10" y1="257.10" x2="88.40" y2="257.10" stroke="#2a2a2a" stroke-width="0.8"/>
<line x1="89.80" y1="278.35" x2="89.80" y2="280.55" stroke="#2a2a2a" stroke-width="0.75"/>
<line x1="121.70" y1="278.35" x2="121.70" y2="280.55" stroke="#2a2a2a" stroke-width="0.75"/>
<text x="82.30" y="276.55" font-size="4.6" text-anchor="end" font-weight="normal" fill="#1a1a1a" stroke="#1a1a1a" stroke-width="0.15" transform="rotate(-90 82.30 276.55)">0</text>
<text x="82.30" y="255.30" font-size="4.6" text-anchor="end" font-weight="normal" fill="#1a1a1a" stroke="#1a1a1a" stroke-width="0.15" transform="rotate(-90 82.30 255.30)">100</text>
<text x="89.80" y="288.85" font-size="4.7" text-anchor="middle" font-weight="normal" fill="#1a1a1a" stroke="#1a1a1a" stroke-width="0.12">0</text>
<text x="121.70" y="288.85" font-size="4.7" text-anchor="middle" font-weight="normal" fill="#1a1a1a" stroke="#1a1a1a" stroke-width="0.12">1</text>
<text x="106.05" y="296.98" font-size="4.75" text-anchor="middle" font-weight="normal" fill="#1a1a1a" stroke="#1a1a1a" stroke-width="0.26">Current [nA]</text>
<text x="74.00" y="266.20" font-size="4.75" text-anchor="middle" font-weight="normal" fill="#1a1a1a" stroke="#1a1a1a" stroke-width="0.26" transform="rotate(-90 74.00 266.20)">Frequency [Hz]</text>
<path d="M88.40 278.35L104.00 278.35C104.00 277.43 103.67 274.16 104.00 272.80C104.33 271.44 105.33 271.07 106.00 270.20C106.67 269.33 107.00 268.78 108.00 267.60C109.00 266.42 110.48 264.52 112.00 263.10C113.52 261.68 115.40 260.23 117.10 259.10C118.80 257.97 121.35 256.77 122.20 256.30" fill="none" stroke="#333" stroke-width="0.95" stroke-linejoin="round"/>
<polyline points="104.00,276.00 104.00,272.80" fill="none" stroke="#d8442c" stroke-width="1.0" stroke-opacity="0.6" stroke-linecap="round"/>
<circle cx="104.00" cy="272.80" r="0.95" fill="#b82828"/>
<circle cx="112.00" cy="263.10" r="0.95" fill="#111"/>
<path d="M225.80 255.10 V278.35 H260.30" fill="none" stroke="#2a2a2a" stroke-width="0.8"/>
<line x1="223.50" y1="278.35" x2="225.80" y2="278.35" stroke="#2a2a2a" stroke-width="0.8"/>
<line x1="223.50" y1="261.40" x2="225.80" y2="261.40" stroke="#2a2a2a" stroke-width="0.8"/>
<line x1="227.20" y1="278.35" x2="227.20" y2="280.55" stroke="#2a2a2a" stroke-width="0.75"/>
<line x1="259.10" y1="278.35" x2="259.10" y2="280.55" stroke="#2a2a2a" stroke-width="0.75"/>
<text x="219.70" y="276.55" font-size="4.6" text-anchor="end" font-weight="normal" fill="#1a1a1a" stroke="#1a1a1a" stroke-width="0.15" transform="rotate(-90 219.70 276.55)">0</text>
<text x="219.70" y="259.60" font-size="4.6" text-anchor="end" font-weight="normal" fill="#1a1a1a" stroke="#1a1a1a" stroke-width="0.15" transform="rotate(-90 219.70 259.60)">100</text>
<text x="227.20" y="288.85" font-size="4.7" text-anchor="middle" font-weight="normal" fill="#1a1a1a" stroke="#1a1a1a" stroke-width="0.12">0</text>
<text x="259.10" y="288.85" font-size="4.7" text-anchor="middle" font-weight="normal" fill="#1a1a1a" stroke="#1a1a1a" stroke-width="0.12">1</text>
<text x="243.45" y="296.98" font-size="4.75" text-anchor="middle" font-weight="normal" fill="#1a1a1a" stroke="#1a1a1a" stroke-width="0.26">Current [nA]</text>
<text x="211.40" y="266.20" font-size="4.75" text-anchor="middle" font-weight="normal" fill="#1a1a1a" stroke="#1a1a1a" stroke-width="0.26" transform="rotate(-90 211.40 266.20)">Frequency [Hz]</text>
<path d="M225.80 278.35L230.50 278.35C230.50 276.38 230.18 268.79 230.50 266.50C230.82 264.21 231.67 265.18 232.40 264.60C233.13 264.02 234.12 263.45 234.90 263.00C235.68 262.55 235.80 262.40 237.10 261.90C238.40 261.40 240.62 260.62 242.70 260.00C244.78 259.38 246.85 258.82 249.60 258.20C252.35 257.58 257.60 256.62 259.20 256.30" fill="none" stroke="#333" stroke-width="0.95" stroke-linejoin="round"/>
<polyline points="226.40,278.00 228.90,278.60 230.50,277.50" fill="none" stroke="#d8442c" stroke-width="1.0" stroke-opacity="0.6" stroke-linecap="round"/>
<circle cx="230.90" cy="265.90" r="0.95" fill="#111"/>
<text x="279.80" y="129.40" font-size="6.2" text-anchor="start" font-weight="bold" fill="#111" stroke="#111" stroke-width="0.1">M</text>
<text x="314.95" y="148.60" font-size="4.55" style="font-family:'Liberation Sans', 'DejaVu Sans', sans-serif" font-weight="bold" text-anchor="middle" fill="#4a7cc0" stroke="#4a7cc0" stroke-width="0.14">RS Pyramidal</text>
<text x="351.75" y="147.10" font-size="4.6" style="font-family:'Liberation Sans', 'DejaVu Sans', sans-serif" font-weight="bold" text-anchor="middle" fill="#4a7cc0" stroke="#4a7cc0" stroke-width="0.14">RS Inhibitory</text>
<text x="382.40" y="156.80" font-size="3.4" style="font-family:'Liberation Sans', 'DejaVu Sans', sans-serif" font-weight="bold" text-anchor="middle" fill="#2a7a6c" stroke="#2a7a6c" stroke-width="0.14">FS</text>
<text x="311.30" y="181.80" font-size="4.0" style="font-family:'Liberation Sans', 'DejaVu Sans', sans-serif" font-weight="bold" text-anchor="middle" fill="#34589a" stroke="#34589a" stroke-width="0.14">Models D, H</text>
<text x="350.50" y="177.50" font-size="4.0" style="font-family:'Liberation Sans', 'DejaVu Sans', sans-serif" font-weight="bold" text-anchor="middle" fill="#34589a" stroke="#34589a" stroke-width="0.14">Models B, E</text>
<text x="383.80" y="186.60" font-size="4.1" style="font-family:'Liberation Sans', 'DejaVu Sans', sans-serif" font-weight="bold" text-anchor="middle" fill="#2fa08f" stroke="#2fa08f" stroke-width="0.14">Models C, G</text>
<text x="313.65" y="242.70" font-size="4.25" style="font-family:'Liberation Sans', 'DejaVu Sans', sans-serif" font-weight="bold" text-anchor="middle" fill="#cc3a84" stroke="#cc3a84" stroke-width="0.14">STN</text>
<text x="320.80" y="264.40" font-size="4.15" style="font-family:'Liberation Sans', 'DejaVu Sans', sans-serif" font-weight="bold" text-anchor="start" fill="#cc3a84" stroke="#cc3a84" stroke-width="0.14">Models</text>
<text x="320.90" y="269.30" font-size="4.15" style="font-family:'Liberation Sans', 'DejaVu Sans', sans-serif" font-weight="bold" text-anchor="start" fill="#cc3a84" stroke="#cc3a84" stroke-width="0.14">I, K, L</text>
<text x="385.60" y="250.60" font-size="4.6" style="font-family:'Liberation Sans', 'DejaVu Sans', sans-serif" font-weight="bold" text-anchor="middle" fill="#6e55a6" stroke="#6e55a6" stroke-width="0.14">Cb Stellate</text>
<text x="360.30" y="264.10" font-size="4.0" style="font-family:'Liberation Sans', 'DejaVu Sans', sans-serif" font-weight="bold" text-anchor="start" fill="#6e55a6" stroke="#6e55a6" stroke-width="0.14">Models</text>
<text x="360.30" y="268.90" font-size="4.0" style="font-family:'Liberation Sans', 'DejaVu Sans', sans-serif" font-weight="bold" text-anchor="start" fill="#6e55a6" stroke="#6e55a6" stroke-width="0.14">A, F, J</text>
<g fill="none" stroke="#7888b8" stroke-width="0.7"><path d="M312.7 154.1V173.0"/><path d="M311.3 152.6L312.7 154.2L314.09999999999997 152.6" stroke-width="0.5"/><path d="M310.09999999999997 174.3L312.7 172.7L315.3 174.3M311.09999999999997 174.1H314.3" stroke-width="0.55"/></g>
<ellipse cx="309.7" cy="159.1" rx="2.9" ry="0.95" fill="#9cb0d4"/>
<ellipse cx="315.7" cy="159.1" rx="2.9" ry="0.95" fill="#9cb0d4"/>
<ellipse cx="312.7" cy="159.1" rx="1.0" ry="0.85" fill="#2a4080"/>
<g fill="none" stroke="#c8a0b8" stroke-width="0.7"><path d="M313.4 247.1V266.4"/><path d="M312.0 245.6L313.4 247.2L314.79999999999995 245.6" stroke-width="0.5"/><path d="M310.79999999999995 267.7L313.4 266.09999999999997L316.0 267.7M311.79999999999995 267.5H315.0" stroke-width="0.55"/></g>
<ellipse cx="310.4" cy="252.8" rx="2.9" ry="0.95" fill="#dca0c0"/>
<ellipse cx="316.4" cy="252.8" rx="2.9" ry="0.95" fill="#dca0c0"/>
<ellipse cx="313.4" cy="252.8" rx="1.0" ry="0.85" fill="#a83070"/>
<g stroke="#7a8cb8" fill="none" stroke-width="0.75"><path d="M350.3 153.70000000000002V165.6"/><path d="M345.7 151.3L350.3 153.9L354.5 151.3M347.7 150.4L348.3 152.5M352.5 150.5L352.7 152.3" stroke-width="0.6"/><path d="M343.3 169.5L350.3 166.2L357.3 169.2" stroke-width="0.7"/></g>
<path d="M348.5 167.2Q350.3 166.4 352.1 167.2L350.3 164.2Z" fill="#2a4a8a"/>
<g stroke="#78a4a0" fill="none" stroke-width="0.75"><path d="M383.6 163.6V175.8"/><path d="M379.0 161.2L383.6 163.79999999999998L387.8 161.2M381.0 160.29999999999998L381.6 162.39999999999998M385.8 160.39999999999998L386.0 162.2" stroke-width="0.6"/><path d="M376.8 179.70000000000002L383.6 176.4L390.40000000000003 179.4" stroke-width="0.7"/></g>
<path d="M381.8 177.4Q383.6 176.60000000000002 385.40000000000003 177.4L383.6 174.4Z" fill="#2a8a7a"/>
<path d="M386.30 264.40L394.15 265.20M390.62 264.84L391.69 266.52M392.19 265.00L393.58 263.57M386.30 264.40L391.67 270.34M389.25 267.67L388.92 269.64M390.33 268.86L392.32 268.73M386.30 264.40L386.06 271.33M386.17 268.21L384.56 269.40M386.12 269.60L387.64 270.89M386.30 264.40L381.78 271.57M383.82 268.34L381.83 268.56M382.91 269.78L383.57 271.66M386.30 264.40L379.24 266.14M382.42 265.36L380.84 264.13M381.01 265.71L380.17 267.52M386.30 264.40L380.19 259.64M382.94 261.78L382.92 259.78M381.72 260.83L379.78 261.30M386.30 264.40L384.34 256.90M385.22 260.27L386.43 258.68M384.83 258.77L383.00 257.97M386.30 264.40L388.99 257.83M387.78 260.78L389.70 260.23M388.31 259.47L387.33 257.73M386.30 264.40L393.85 260.41M390.45 262.21L392.28 263.01M391.96 261.41L392.33 259.44" stroke="#a496cc" stroke-width="0.4" fill="none"/>
<circle cx="386.3" cy="264.4" r="0.7" fill="#5a4a9a"/>
<g>
<defs>
<linearGradient id="cbg" x1="0.2" y1="0" x2="0" y2="1">
<stop offset="0" stop-color="#7c68b8"/><stop offset="0.5" stop-color="#634ea4"/><stop offset="1" stop-color="#3e2e84"/>
</linearGradient>
</defs>
<path d="M305.5 209 C 305.8 205.5, 307.5 201.5, 309.5 199 C 312 195.5, 315 192, 318.5 189.5 C 322.5 186.8, 327 185.3, 333 184.6 C 339 184.1, 346 184, 352.5 184.4 C 359 185, 366 188, 372.5 192.3 C 377 195.5, 381 200, 383.8 206 C 386 211, 386.8 216, 386 222 C 385 227.5, 382.5 230.5, 378.5 231.8 L 375.5 231.4 C 373 227.5, 369 222.5, 364 218.5 L 360 219 L 350 221 L 344 223 C 344.2 227, 343.5 230.5, 341.3 232.8 C 338.5 234.8, 333 235, 329 233 C 325.5 231, 323 228, 321.8 224 C 318 223.6, 313 222, 309.5 219 C 306.8 216.5, 305.4 213, 305.5 209 Z" fill="#50b1ab" stroke="#379790" stroke-width="0.8"/>
<path d="M310 203 C 314 201, 317 198, 322 196 C 326 194.5, 329 192, 334 191 M313 210 C 317 207, 320 205, 324 203 M318 214 C 314 213, 311 212, 309 209 M336 187.5 C 341 189, 346 188, 350 189.5 C 355 190.5, 360 190, 364 192.5 M366 197 C 370 199, 373 202, 376 206 C 378 208, 379 212, 381 214 M372 214 C 375 217, 377 221, 380 225 M338 195 C 343 196, 348 195, 355 197 M326 228 C 330 230, 335 231, 340 229 M316 218.5 C 318 219.5, 320 220.5, 322 220.5 M359 199 C 363 200, 367 203, 369 207 M329 198 C 333 197, 336 199, 340 199" stroke="#3f9e98" stroke-width="0.6" fill="none" opacity="0.8"/>
<path d="M325 209 C 325.5 205, 329 203.6, 334 203.2 C 342 202.8, 352 203.4, 356.5 206.3 C 359.5 208.5, 360.3 212, 359.5 216 L 352 217.8 L 344 217 C 339 215.8, 334 214, 330 212.3 C 327.5 211.3, 325.5 210.5, 325 209 Z" fill="#e2dce1"/>
<path d="M327 210.5 C 329 207.5, 334 206.3, 340 206 C 347 205.8, 353 206.5, 356 208.8" fill="none" stroke="#d0ccd4" stroke-width="1.6"/>
<path d="M325.6 210.6 C 325.6 205.8, 330 204.4, 336 204 C 344 203.5, 352 204, 356 206.5 C 358.6 208.4, 359.2 211.5, 358.6 214.5" fill="none" stroke="#ffffff" stroke-width="1.5"/>
<path d="M344.4 219 L 357.2 215.8 C 356 222, 355.6 228, 356.2 234 C 356.8 240, 357 246, 356.3 255.2 L 351.2 255.4 C 350.2 249, 348.8 243, 347.8 238 C 346.6 232, 345.2 225, 344.4 219 Z" fill="#e3e3e6" stroke="#fff" stroke-width="0.6"/>
<path d="M357.4 221.2 C 358.3 219.6, 359.2 218.9, 360.4 218.8 C 362 218.6, 363.5 218.9, 364.5 219.6 C 365.6 220.5, 366.3 221.5, 367 222.4 C 368 223.5, 369 224.5, 370 225.4 C 371.5 226.5, 372.7 227.5, 373.6 228.4 C 374.6 229.6, 375.4 230.8, 376 232 C 376.8 233.4, 377.2 234.5, 377.2 235.6 C 377.3 237, 377.2 238.2, 376.6 239.2 C 376 240.4, 375.2 241, 374.2 241.6 C 373 242.5, 371.5 243, 370 243.4 C 368.3 243.9, 366.8 244.2, 365.2 244.6 C 363.8 245.1, 362.7 245.8, 361.6 246.5 C 360.8 246.9, 360 247.1, 359.2 247 C 358.3 246.7, 357.7 245.5, 357.4 244 C 357 242, 356.8 240, 356.8 238 C 356.7 235, 356.7 232, 356.8 229.6 C 356.8 227.5, 356.8 226, 356.8 224.8 C 356.9 223.5, 357.1 222.2, 357.4 221.2 Z" fill="url(#cbg)" stroke="#fff" stroke-width="0.5"/>
<path d="M376.8 232.5 C 377.6 236, 377 239.5, 374.5 241.5 C 371 243.5, 366 244, 362 246.2" fill="none" stroke="#3e2e7e" stroke-width="0.7"/>
<path d="M359.5 241 L 361.5 222 M359.8 241 L 365.5 221.5 M360 241 L 369.5 226 M360.2 241 L 373.5 230.5 M360.4 241.2 L 375.5 236" stroke="#9480c8" stroke-width="0.55" fill="none" opacity="0.6"/>
<path d="M341 217.8 C 333 219.5, 325.5 224, 320.2 231" stroke="#9c3888" stroke-width="1.25" fill="none"/>
<path d="M341.3 216.9 L 347.6 216.2" stroke="#dc2f6c" stroke-width="1.7" fill="none" stroke-linecap="round"/>
<path d="M317.6 235 L 318.2 229.4 L 322.2 232.2 Z" fill="#b0308a"/>
</g>

</g>
</svg>
</body></html>
